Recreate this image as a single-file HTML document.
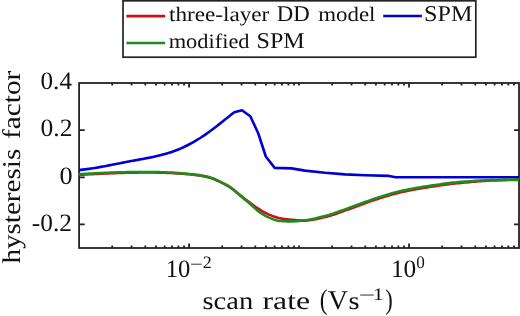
<!DOCTYPE html>
<html><head><meta charset="utf-8"><title>hysteresis factor vs scan rate</title><style>
html,body{margin:0;padding:0;background:#fff;overflow:hidden;}
svg{display:block;}
</style></head><body>
<svg width="520" height="316" viewBox="0 0 520 316">
<rect width="520" height="316" fill="#fff"/>
<path d="M79.1,224.43h5.6M519.0,224.43h-5.0M79.1,177.29h5.6M519.0,177.29h-5.0M79.1,130.14h5.6M519.0,130.14h-5.0M112.21,248.0v-2.5M112.21,83.0v2.5M131.57,248.0v-2.5M131.57,83.0v2.5M145.31,248.0v-2.5M145.31,83.0v2.5M155.97,248.0v-2.5M155.97,83.0v2.5M164.68,248.0v-2.5M164.68,83.0v2.5M172.04,248.0v-2.5M172.04,83.0v2.5M178.42,248.0v-2.5M178.42,83.0v2.5M184.04,248.0v-2.5M184.04,83.0v2.5M189.07,248.0v-4.5M189.07,83.0v4.5M222.18,248.0v-2.5M222.18,83.0v2.5M241.55,248.0v-2.5M241.55,83.0v2.5M255.29,248.0v-2.5M255.29,83.0v2.5M265.94,248.0v-2.5M265.94,83.0v2.5M274.65,248.0v-2.5M274.65,83.0v2.5M282.01,248.0v-2.5M282.01,83.0v2.5M288.39,248.0v-2.5M288.39,83.0v2.5M294.02,248.0v-2.5M294.02,83.0v2.5M299.05,248.0v-2.5M299.05,83.0v2.5M332.16,248.0v-2.5M332.16,83.0v2.5M351.52,248.0v-2.5M351.52,83.0v2.5M365.26,248.0v-2.5M365.26,83.0v2.5M375.92,248.0v-2.5M375.92,83.0v2.5M384.63,248.0v-2.5M384.63,83.0v2.5M391.99,248.0v-2.5M391.99,83.0v2.5M398.37,248.0v-2.5M398.37,83.0v2.5M403.99,248.0v-2.5M403.99,83.0v2.5M409.02,248.0v-4.5M409.02,83.0v4.5M442.13,248.0v-2.5M442.13,83.0v2.5M461.50,248.0v-2.5M461.50,83.0v2.5M475.24,248.0v-2.5M475.24,83.0v2.5M485.89,248.0v-2.5M485.89,83.0v2.5M494.60,248.0v-2.5M494.60,83.0v2.5M501.96,248.0v-2.5M501.96,83.0v2.5M508.34,248.0v-2.5M508.34,83.0v2.5M513.97,248.0v-2.5M513.97,83.0v2.5" stroke="#222" stroke-width="1.8" fill="none"/>
<rect x="79.1" y="83.0" width="439.9" height="165.0" fill="none" stroke="#222" stroke-width="1.8"/>
<clipPath id="c"><rect x="79.1" y="83.0" width="439.9" height="165.0"/></clipPath>
<g clip-path="url(#c)" fill="none" stroke-linejoin="round" stroke-linecap="butt" stroke-width="2.6">
<polyline stroke="#c8101a" points="79.0,174.80 81.0,174.70 83.0,174.60 85.0,174.50 87.0,174.40 89.0,174.30 91.0,174.21 93.0,174.12 95.0,174.02 97.0,173.93 99.0,173.84 101.0,173.76 103.0,173.66 105.0,173.57 107.0,173.48 109.0,173.38 111.0,173.29 113.0,173.20 115.0,173.11 117.0,173.03 119.0,172.96 121.0,172.90 123.0,172.84 125.0,172.80 127.0,172.76 129.0,172.73 131.0,172.69 133.0,172.66 135.0,172.63 137.0,172.60 139.0,172.57 141.0,172.55 143.0,172.53 145.0,172.52 147.0,172.51 149.0,172.50 151.0,172.50 153.0,172.52 155.0,172.54 157.0,172.58 159.0,172.63 161.0,172.69 163.0,172.75 165.0,172.82 167.0,172.89 169.0,172.96 171.0,173.04 173.0,173.13 175.0,173.24 177.0,173.36 179.0,173.49 181.0,173.64 183.0,173.79 185.0,173.96 187.0,174.13 189.0,174.31 191.0,174.49 193.0,174.70 195.0,174.92 197.0,175.17 199.0,175.45 201.0,175.76 203.0,176.10 205.0,176.49 207.0,176.93 209.0,177.43 211.0,178.00 213.0,178.72 215.0,179.56 217.0,180.47 219.0,181.42 221.0,182.38 223.0,183.36 225.0,184.39 227.0,185.49 229.0,186.67 231.0,187.97 233.0,189.44 235.0,191.04 237.0,192.69 239.0,194.32 241.0,195.87 243.0,197.41 245.0,198.94 247.0,200.46 249.0,201.96 251.0,203.44 253.0,204.93 255.0,206.42 257.0,207.85 259.0,209.18 261.0,210.40 263.0,211.56 265.0,212.66 267.0,213.67 269.0,214.59 271.0,215.39 273.0,216.15 275.0,216.85 277.0,217.47 279.0,217.99 281.0,218.39 283.0,218.73 285.0,219.02 287.0,219.28 289.0,219.50 291.0,219.70 293.0,219.90 295.0,220.09 297.0,220.27 299.0,220.42 301.0,220.53 303.0,220.59 305.0,220.59 307.0,220.49 309.0,220.30 311.0,220.03 313.0,219.71 315.0,219.33 317.0,218.91 319.0,218.47 321.0,218.01 323.0,217.55 325.0,217.10 327.0,216.63 329.0,216.10 331.0,215.51 333.0,214.88 335.0,214.22 337.0,213.52 339.0,212.80 341.0,212.07 343.0,211.33 345.0,210.59 347.0,209.86 349.0,209.15 351.0,208.45 353.0,207.74 355.0,207.02 357.0,206.28 359.0,205.54 361.0,204.79 363.0,204.04 365.0,203.30 367.0,202.57 369.0,201.85 371.0,201.14 373.0,200.46 375.0,199.80 377.0,199.16 379.0,198.51 381.0,197.87 383.0,197.24 385.0,196.62 387.0,196.01 389.0,195.41 391.0,194.83 393.0,194.27 395.0,193.73 397.0,193.22 399.0,192.73 401.0,192.27 403.0,191.83 405.0,191.40 407.0,190.98 409.0,190.57 411.0,190.17 413.0,189.79 415.0,189.41 417.0,189.05 419.0,188.70 421.0,188.35 423.0,188.02 425.0,187.69 427.0,187.37 429.0,187.05 431.0,186.75 433.0,186.44 435.0,186.15 437.0,185.85 439.0,185.56 441.0,185.28 443.0,185.00 445.0,184.73 447.0,184.47 449.0,184.22 451.0,183.97 453.0,183.74 455.0,183.51 457.0,183.30 459.0,183.10 461.0,182.90 463.0,182.71 465.0,182.53 467.0,182.34 469.0,182.15 471.0,181.97 473.0,181.80 475.0,181.63 477.0,181.46 479.0,181.30 481.0,181.15 483.0,181.01 485.0,180.88 487.0,180.76 489.0,180.65 491.0,180.55 493.0,180.47 495.0,180.40 497.0,180.34 499.0,180.28 501.0,180.22 503.0,180.16 505.0,180.10 507.0,180.06 509.0,180.01 511.0,179.97 513.0,179.94 515.0,179.92 517.0,179.91 519.0,179.90"/>
<polyline stroke="#0000d4" points="79.0,170.06 81.0,169.86 83.0,169.64 85.0,169.40 87.0,169.14 89.0,168.86 91.0,168.57 93.0,168.26 95.0,167.94 97.0,167.60 99.0,167.25 101.0,166.90 103.0,166.53 105.0,166.16 107.0,165.77 109.0,165.39 111.0,165.00 113.0,164.60 115.0,164.20 117.0,163.81 119.0,163.41 121.0,163.01 123.0,162.62 125.0,162.22 127.0,161.84 129.0,161.46 131.0,161.08 133.0,160.72 135.0,160.35 137.0,159.99 139.0,159.63 141.0,159.27 143.0,158.91 145.0,158.53 147.0,158.15 149.0,157.76 151.0,157.36 153.0,156.94 155.0,156.50 157.0,156.05 159.0,155.57 161.0,155.08 163.0,154.55 165.0,154.00 167.0,153.42 169.0,152.81 171.0,152.16 173.0,151.48 175.0,150.76 177.0,149.99 179.0,149.19 181.0,148.34 183.0,147.45 185.0,146.51 187.0,145.53 189.0,144.51 191.0,143.44 193.0,142.33 195.0,141.17 197.0,139.98 199.0,138.75 201.0,137.47 203.0,136.16 205.0,134.81 207.0,133.42 209.0,131.99 211.0,130.53 213.0,129.03 215.0,127.50 217.0,125.95 219.0,124.38 221.0,122.79 223.0,121.20 225.0,119.60 227.0,118.01 229.0,116.42 231.0,114.85 233.0,113.29 234.3,112.28 241.9,110.20 250.3,116.20 258.3,133.50 265.8,156.50 274.7,167.90 291.4,168.40 305.0,170.60 325.0,172.80 345.0,174.40 365.0,175.20 388.9,175.90 395.8,177.30 519.0,177.30"/>
<polyline stroke="#228a1c" points="79.0,174.20 81.0,174.08 83.0,173.97 85.0,173.85 87.0,173.74 89.0,173.63 91.0,173.53 93.0,173.43 95.0,173.33 97.0,173.23 99.0,173.14 101.0,173.06 103.0,172.97 105.0,172.88 107.0,172.79 109.0,172.70 111.0,172.62 113.0,172.54 115.0,172.46 117.0,172.39 119.0,172.33 121.0,172.28 123.0,172.23 125.0,172.20 127.0,172.17 129.0,172.15 131.0,172.13 133.0,172.10 135.0,172.08 137.0,172.06 139.0,172.05 141.0,172.03 143.0,172.02 145.0,172.01 147.0,172.00 149.0,172.00 151.0,172.00 153.0,172.02 155.0,172.05 157.0,172.10 159.0,172.16 161.0,172.23 163.0,172.30 165.0,172.39 167.0,172.47 169.0,172.56 171.0,172.65 173.0,172.75 175.0,172.87 177.0,173.00 179.0,173.14 181.0,173.30 183.0,173.47 185.0,173.64 187.0,173.82 189.0,174.01 191.0,174.20 193.0,174.40 195.0,174.63 197.0,174.88 199.0,175.15 201.0,175.46 203.0,175.80 205.0,176.19 207.0,176.63 209.0,177.13 211.0,177.70 213.0,178.42 215.0,179.26 217.0,180.17 219.0,181.12 221.0,182.07 223.0,183.05 225.0,184.07 227.0,185.16 229.0,186.36 231.0,187.69 233.0,189.25 235.0,190.97 237.0,192.76 239.0,194.54 241.0,196.25 243.0,197.94 245.0,199.64 247.0,201.35 249.0,203.05 251.0,204.77 253.0,206.56 255.0,208.37 257.0,210.11 259.0,211.69 261.0,213.07 263.0,214.36 265.0,215.56 267.0,216.64 269.0,217.59 271.0,218.39 273.0,219.18 275.0,219.90 277.0,220.49 279.0,220.89 281.0,221.07 283.0,221.19 285.0,221.29 287.0,221.36 289.0,221.40 291.0,221.39 293.0,221.33 295.0,221.23 297.0,221.08 299.0,220.90 301.0,220.71 303.0,220.50 305.0,220.29 307.0,220.02 309.0,219.70 311.0,219.34 313.0,218.93 315.0,218.49 317.0,218.02 319.0,217.53 321.0,217.03 323.0,216.51 325.0,216.00 327.0,215.46 329.0,214.89 331.0,214.27 333.0,213.63 335.0,212.95 337.0,212.26 339.0,211.55 341.0,210.83 343.0,210.11 345.0,209.38 347.0,208.66 349.0,207.95 351.0,207.25 353.0,206.54 355.0,205.81 357.0,205.07 359.0,204.33 361.0,203.58 363.0,202.84 365.0,202.09 367.0,201.36 369.0,200.64 371.0,199.94 373.0,199.26 375.0,198.60 377.0,197.95 379.0,197.31 381.0,196.67 383.0,196.04 385.0,195.41 387.0,194.80 389.0,194.20 391.0,193.62 393.0,193.06 395.0,192.53 397.0,192.01 399.0,191.53 401.0,191.07 403.0,190.64 405.0,190.21 407.0,189.80 409.0,189.39 411.0,189.01 413.0,188.63 415.0,188.26 417.0,187.90 419.0,187.56 421.0,187.22 423.0,186.89 425.0,186.57 427.0,186.26 429.0,185.95 431.0,185.65 433.0,185.35 435.0,185.05 437.0,184.76 439.0,184.47 441.0,184.18 443.0,183.91 445.0,183.64 447.0,183.38 449.0,183.13 451.0,182.89 453.0,182.66 455.0,182.45 457.0,182.26 459.0,182.08 461.0,181.92 463.0,181.76 465.0,181.61 467.0,181.46 469.0,181.32 471.0,181.18 473.0,181.04 475.0,180.91 477.0,180.79 479.0,180.67 481.0,180.56 483.0,180.46 485.0,180.36 487.0,180.27 489.0,180.19 491.0,180.12 493.0,180.05 495.0,180.00 497.0,179.95 499.0,179.90 501.0,179.85 503.0,179.81 505.0,179.77 507.0,179.73 509.0,179.69 511.0,179.66 513.0,179.64 515.0,179.62 517.0,179.60 519.0,179.60"/>
</g>
<rect x="123.0" y="0.8" width="352.8" height="56.4" fill="#fff" stroke="#222" stroke-width="1.7"/>
<path d="M126.4,16.1H165.2" stroke="#c8101a" stroke-width="2.6"/>
<path d="M126.4,43H165.2" stroke="#228a1c" stroke-width="2.6"/>
<path d="M383.2,16H421.9" stroke="#0000d4" stroke-width="2.6"/>
<g font-family="'Liberation Serif', serif" fill="#111" text-rendering="geometricPrecision">
<text x="168.98" y="21.3" font-size="20.5" textLength="100.38" lengthAdjust="spacingAndGlyphs">three-layer</text>
<text x="276.65" y="21.3" font-size="22.5" textLength="33.05" lengthAdjust="spacingAndGlyphs">DD</text>
<text x="318.31" y="21.3" font-size="20.5" textLength="57.17" lengthAdjust="spacingAndGlyphs">model</text>
<text x="424.12" y="21.3" font-size="22.5" textLength="48.28" lengthAdjust="spacingAndGlyphs">SPM</text>
<text x="168.69" y="47.6" font-size="20.5" textLength="80.82" lengthAdjust="spacingAndGlyphs">modified</text>
<text x="256.56" y="47.6" font-size="22.5" textLength="48.2" lengthAdjust="spacingAndGlyphs">SPM</text>
<text x="40.56" y="88.6" font-size="25" textLength="31.43" lengthAdjust="spacingAndGlyphs">0.4</text>
<text x="40.51" y="135.9" font-size="25" textLength="31.89" lengthAdjust="spacingAndGlyphs">0.2</text>
<text x="59.57" y="183.5" font-size="25" textLength="13.11" lengthAdjust="spacingAndGlyphs">0</text>
<text x="31.77" y="231.0" font-size="25" textLength="40.15" lengthAdjust="spacingAndGlyphs">-0.2</text>
<text x="165.63" y="276.8" font-size="25" textLength="24.58" lengthAdjust="spacingAndGlyphs">10</text>
<text x="190.09" y="269.8" font-size="17.5" textLength="12.78" lengthAdjust="spacingAndGlyphs">&#8722;</text>
<text x="202.66" y="268.2" font-size="17.5" textLength="9.0" lengthAdjust="spacingAndGlyphs">2</text>
<text x="390.93" y="276.8" font-size="25" textLength="25.37" lengthAdjust="spacingAndGlyphs">10</text>
<text x="416.19" y="267.7" font-size="17.5" textLength="8.58" lengthAdjust="spacingAndGlyphs">0</text>
<text x="202.54" y="308.7" font-size="25" textLength="50.61" lengthAdjust="spacingAndGlyphs">scan</text>
<text x="262.53" y="308.7" font-size="25" textLength="47.56" lengthAdjust="spacingAndGlyphs">rate</text>
<text x="319.7" y="309.0" font-size="28.5" textLength="7.84" lengthAdjust="spacingAndGlyphs">(</text>
<text x="327.87" y="308.8" font-size="27" textLength="20.34" lengthAdjust="spacingAndGlyphs">V</text>
<text x="348.55" y="308.7" font-size="25" textLength="11.05" lengthAdjust="spacingAndGlyphs">s</text>
<text x="358.73" y="301.0" font-size="18" textLength="16.51" lengthAdjust="spacingAndGlyphs">&#8722;</text>
<text x="373.04" y="299.6" font-size="17.5" textLength="10.55" lengthAdjust="spacingAndGlyphs">1</text>
<text x="385.29" y="309.0" font-size="28.5" textLength="7.49" lengthAdjust="spacingAndGlyphs">)</text>
<text transform="translate(20.2,263.59) rotate(-90)" font-size="25.5" textLength="114.82" lengthAdjust="spacingAndGlyphs">hysteresis</text>
<text transform="translate(20.2,138.88) rotate(-90)" font-size="25.5" textLength="68.12" lengthAdjust="spacingAndGlyphs">factor</text>
</g>
</svg>
</body></html>
